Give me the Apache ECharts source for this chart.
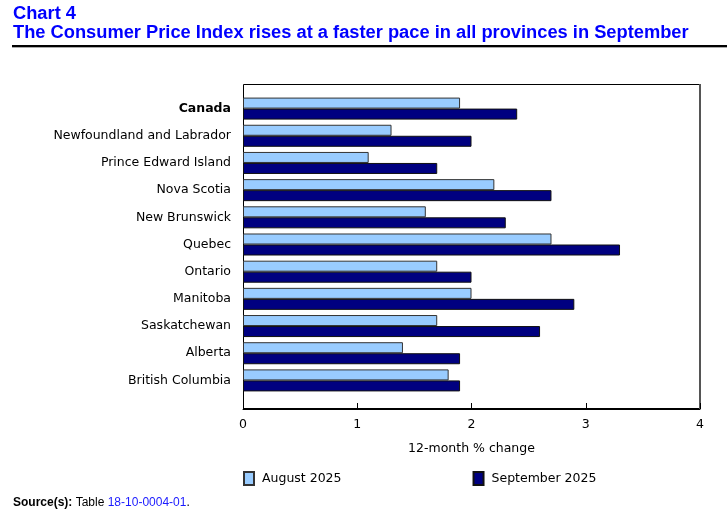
<!DOCTYPE html>
<html>
<head>
<meta charset="utf-8">
<script src="https://cdn.jsdelivr.net/npm/echarts@6/dist/echarts.min.js"></script>
<style>
  html, body { margin: 0; padding: 0; background: #fff; }
  #chartDom { width: 727px; height: 513px; }
</style>
</head>
<body>
<div id="chartDom"></div>
<script>
// provinces, top to bottom
var categories = ['Canada', 'Newfoundland and Labrador', 'Prince Edward Island', 'Nova Scotia',
    'New Brunswick', 'Quebec', 'Ontario', 'Manitoba', 'Saskatchewan', 'Alberta', 'British Columbia'];
var august2025 = [1.9, 1.3, 1.1, 2.2, 1.6, 2.7, 1.7, 2.0, 1.7, 1.4, 1.8];
var september2025 = [2.4, 2.0, 1.7, 2.7, 2.3, 3.3, 2.0, 2.9, 2.6, 1.9, 1.9];
var xTicks = [0, 1, 2, 3, 4];

var labelFont = 'DejaVu Sans, Verdana, sans-serif';
var titleFont = 'bold 18.3px "Liberation Sans", Arial, sans-serif';
var chartDom = echarts.init(document.getElementById('chartDom'));

chartDom.setOption({
    animation: false,
    textStyle: { fontFamily: labelFont },
    graphic: [
        { type: 'text', left: 13, top: 5, style: { text: 'Chart 4', fill: '#0000ff', font: titleFont } },
        {
            type: 'text', left: 13, top: 24,
            style: {
                text: 'The Consumer Price Index rises at a faster pace in all provinces in September',
                fill: '#0000ff', font: titleFont
            }
        },
        { type: 'rect', shape: { x: 12, y: 45, width: 715, height: 2 }, style: { fill: '#000' } },
        { type: 'rect', shape: { x: 12, y: 47, width: 715, height: 1 }, style: { fill: '#aaa' } },
        // plot frame (extends beyond the category band)
        {
            type: 'rect', z: 0,
            shape: { x: 243.5, y: 84.5, width: 456, height: 324 },
            style: { fill: 'none', stroke: '#000', lineWidth: 1 }
        },
        { type: 'rect', shape: { x: 699, y: 84, width: 2, height: 325 }, style: { fill: '#555' } },
        {
            type: 'text', left: 13, top: 497,
            style: {
                text: '{b|Source(s):} Table {l|18-10-0004-01}.',
                font: '12px "Liberation Sans", Arial, sans-serif',
                fill: '#000',
                rich: {
                    b: { fontWeight: 'bold', fontSize: 12, fontFamily: 'Liberation Sans', fill: '#000' },
                    l: { fontSize: 12, fontFamily: 'Liberation Sans', fill: '#1a1aff' }
                }
            }
        }
    ],
    legend: {
        left: 243, top: 471, icon: 'rect', padding: 0,
        itemWidth: 10, itemHeight: 13, itemGap: 131,
        textStyle: { fontFamily: labelFont, fontSize: 12.5, color: '#000', padding: [0, 0, 0, 3] },
        data: ['August 2025', 'September 2025']
    },
    grid: { left: 243, right: 27, top: 95, bottom: 119 },
    xAxis: {
        type: 'value', min: 0, max: 4, interval: 1, offset: 15,
        name: '12-month % change', nameLocation: 'middle', nameGap: 33,
        nameTextStyle: { fontFamily: labelFont, fontSize: 12.5, color: '#000' },
        axisLine: { show: true, lineStyle: { color: '#000', width: 1 } },
        axisTick: { show: true, inside: true, length: 6, lineStyle: { color: '#000' } },
        axisLabel: {
            fontFamily: labelFont, fontSize: 12.5, color: '#000', margin: 9,
            formatter: function (v) { return xTicks.indexOf(v) >= 0 ? String(v) : ''; }
        },
        splitLine: { show: false }
    },
    yAxis: {
        type: 'category', data: categories, inverse: true,
        axisLine: { show: false },
        axisTick: { show: false },
        axisLabel: {
            fontFamily: labelFont, fontSize: 12.5, color: '#000', margin: 12,
            formatter: function (v) { return v === 'Canada' ? '{b|' + v + '}' : v; },
            rich: { b: { fontWeight: 'bold', fontFamily: labelFont, fontSize: 12.5, color: '#000' } }
        }
    },
    series: [
        {
            name: 'August 2025', type: 'bar', data: august2025,
            barGap: '0%', barCategoryGap: '19%',
            itemStyle: { color: '#99ccff', borderColor: '#333', borderWidth: 1 }
        },
        {
            name: 'September 2025', type: 'bar', data: september2025,
            itemStyle: { color: '#000080', borderColor: '#111', borderWidth: 1 }
        }
    ]
});
</script>
</body>
</html>
